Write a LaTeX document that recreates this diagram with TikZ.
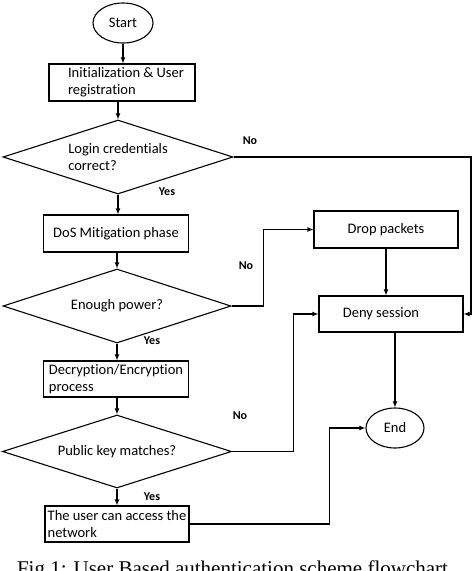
\documentclass[tikz,border=0pt]{standalone}
\usepackage{fontspec}
\setmainfont[Ligatures = NoCommon]{Carlito}
\newfontfamily\captionfont{Liberation Serif}
\usetikzlibrary{
    arrows.meta,
    shapes.geometric
}
\tikzset{
    every picture/.style = {
        > = {Latex[length = 6pt, width = 5pt]},
        line width = 1.1pt,
        x = 1pt,
        y = -1pt
    },
    every node/.style = {
        inner sep = 2pt,
        font = \fontsize{14.5}{17}\selectfont
    },
    block/.style = {
        draw,
        rectangle,
        minimum height = 37pt,
        align = left
    },
    decision/.style = {
        draw,
        diamond,
        aspect = 3.1,
        inner sep = 0pt,
        align = left
    },
    terminal/.style = {
        draw,
        ellipse
    },
    answer/.style = {
        font = \fontsize{12}{14}\selectfont\bfseries
    }
}

\begin{document}
\begin{tikzpicture}
    \useasboundingbox (0, 0) rectangle (474, 571);
    \clip (0, 0) rectangle (474, 571);

    \node[terminal, minimum width = 60pt, minimum height = 40pt] (start) at (123, 23) {Start};
    \node[block, minimum width = 146pt] (init) at (122, 82.5) {\hspace*{8pt}Initialization \& User\\\hspace*{8pt}registration};
    \node[decision, minimum width = 230pt, minimum height = 74pt] (login) at (118, 157) {Login credentials\\correct?};
    \node[block, minimum width = 145pt] (dos) at (116, 233.5) {DoS Mitigation phase};
    \node[decision, minimum width = 228pt, minimum height = 74pt] (power) at (117, 306) {Enough power?};
    \node[block, minimum width = 145pt, minimum height = 36pt] (crypt) at (116, 379) {Decryption/Encryption\\process};
    \node[decision, minimum width = 229pt, minimum height = 73pt] (pubkey) at (117, 451.5) {Public key matches?};
    \node[block, minimum width = 144pt, minimum height = 36pt] (access) at (117, 524) {The user can access the\\network};

    \node[block, minimum width = 144pt] (drop) at (386, 229.5) {Drop packets};
    \node[block, minimum width = 144pt, minimum height = 36pt] (deny) at (391, 314) {Deny session\hspace*{20pt}};
    \node[terminal, minimum width = 58pt, minimum height = 40pt] (finish) at (395, 428) {End};

    \draw[->] (start) -- (start |- init.north);
    \draw[->] (login.north |- init.south) -- (login.north);
    \draw[->] (login.south) -- (login.south |- dos.north);
    \draw[->] (power.north |- dos.south) -- (power.north);
    \draw[->] (power.south) -- (power.south |- crypt.north);
    \draw[->] (pubkey.north |- crypt.south) -- (pubkey.north);
    \draw[->] (pubkey.south) -- (pubkey.south |- access.north);
    \draw[->] (drop.south) -- (drop.south |- deny.north);
    \draw[->] (finish.north |- deny.south) -- (finish.north);

    % the No branches
    \coordinate (rim) at (471, 157);
    \draw[->] (login.east) -- (rim) |- (deny.east);
    \draw[->] (power.east) -- ++(32, 0) |- (drop.west);
    \draw[->] (pubkey.east) -- ++(61, 0) |- (deny.west);
    \draw[->] (access.east) -- ++(140, 0) |- (finish.west);

    \node[answer] (no1) at (250, 141) {No};
    \node[answer] (yes1) at (167, 192) {Yes};
    \node[answer] (no2) at (246, 266) {No};
    \node[answer] (yes2) at (152, 341) {Yes};
    \node[answer] (no3) at (240, 416) {No};
    \node[answer] (yes3) at (152, 497) {Yes};

    \node[font = \captionfont\fontsize{21}{25}\selectfont, anchor = base] (caption) at (232.5, 575) {Fig 1: User Based authentication scheme flowchart};
\end{tikzpicture}
\end{document}
